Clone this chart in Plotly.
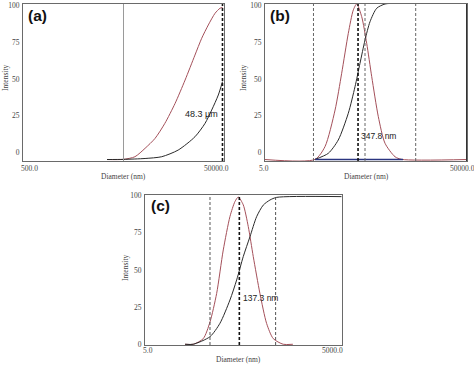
import math
import plotly.graph_objects as go

# ---------------- data ----------------
# panel (a): x in nm, y intensity
a_dist_x = [3430, 4980, 6500, 8200, 10300, 12900, 16300, 20500, 25700, 30000, 34900, 40700, 45600, 48300]
a_dist_y = [-4.6, -4.5, -2.7, 3.0, 9.7, 19.9, 33.4, 49.2, 66.1, 77.5, 86.5, 94.4, 97.8, 98.4]
a_cum_x = [3430, 4980, 8200, 12000, 17500, 25700, 32400, 37700, 43900, 48300]
a_cum_y = [-4.6, -4.5, -3.9, -2.7, 1.8, 10.8, 19.9, 28.9, 39.1, 48.1]
a_lines_thin = [5000]
a_line_main = 48300
a_label = "48.3 µm"

# panel (b)
b_dist_x = [5, 48.9, 77, 122, 165, 223, 280, 327, 411, 516, 649, 877, 1189, 1876, 2545, 50000]
b_dist_y = [-4.6, -4.5, 4.1, 28.9, 53.8, 80.8, 96.6, 100.7, 92.1, 74.1, 51.5, 24.4, 6.4, -2.7, -4.5, -4.6]
b_cum_x = [48.9, 89.6, 141, 223, 303, 380, 478, 600, 814, 1189, 1876, 4820]
b_cum_y = [-4.5, -0.4, 8.6, 26.7, 44.7, 60.5, 76.3, 88.7, 97.8, 100.7, 101.2, 101.2]
b_base_x = [48.9, 2700]
b_base_y = [-4.6, -4.6]
b_lines_thin = [45.6, 478, 4820]
b_line_main = 347.8
b_line_edge = 50000
b_label = "347.8 nm"

# panel (c)
c_dist_x = [20.4, 27.2, 38.7, 49, 61.9, 78.1, 98.8, 117.8, 132.2, 157.5, 187.8, 224, 283, 358, 452, 641, 900]
c_dist_y = [0, 0, 3.8, 15, 34.2, 63.5, 86, 96.1, 99.1, 93.9, 79.3, 59, 34.2, 14, 3.8, 0, 0]
c_cum_x = [20.4, 27.2, 49, 69.5, 98.8, 125, 157.5, 199.4, 252, 318, 402, 509, 5000]
c_cum_y = [0, 0, 5.1, 14.1, 29.8, 43.3, 59, 72.4, 85.9, 93.7, 97.1, 98.9, 99.4]
c_lines_thin = [49, 491]
c_line_main = 137.3
c_label = "137.3 nm"

y_ticks = [0, 25, 50, 75, 100]
panel_names = ["(a)", "(b)", "(c)"]
x_end_labels = [("500.0", "50000.0"), ("5.0", "50000.0"), ("5.0", "5000.0")]
x_title = "Diameter (nm)"
y_title = "Intensity"

# ---------------- figure ----------------
W, H = 474, 366
RED = "#a4505a"
BLK = "#2a2a2a"
SERIF = "Liberation Serif"
SANS = "Liberation Sans"


def px(x):
    return x / W


def py(y):
    return 1 - y / H


fig = go.Figure()
panels = [
    ("x", "y", a_dist_x, a_dist_y, a_cum_x, a_cum_y),
    ("x2", "y2", b_dist_x, b_dist_y, b_cum_x, b_cum_y),
    ("x3", "y3", c_dist_x, c_dist_y, c_cum_x, c_cum_y),
]
for xa, ya, dx, dy, cx, cy in panels:
    fig.add_trace(go.Scatter(x=dx, y=dy, mode="lines", line=dict(color=RED, width=1, shape="spline", smoothing=0.7),
                             xaxis=xa, yaxis=ya, showlegend=False, cliponaxis=False))
    fig.add_trace(go.Scatter(x=cx, y=cy, mode="lines", line=dict(color=BLK, width=1, shape="spline", smoothing=0.7),
                             xaxis=xa, yaxis=ya, showlegend=False, cliponaxis=False))
fig.add_trace(go.Scatter(x=b_base_x, y=b_base_y, mode="lines", line=dict(color="#2b3580", width=1.5),
                         xaxis="x2", yaxis="y2", showlegend=False))

shapes = []


def vline(xref, yref, x, color, width, dash):
    shapes.append(dict(type="line", xref=xref, yref=yref + " domain", x0=x, x1=x, y0=0, y1=1,
                       line=dict(color=color, width=width, dash=dash), layer="above"))


for v in a_lines_thin:
    vline("x", "y", v, "#9a9a9a", 1, "solid")
vline("x", "y", a_line_main, "#111111", 1.6, "3px,2px")
for v in b_lines_thin:
    vline("x2", "y2", v, "#666666", 1, "3px,2px")
vline("x2", "y2", b_line_main, "#111111", 1.6, "3px,2px")
vline("x2", "y2", b_line_edge, "#333333", 2, "solid")
for v in c_lines_thin:
    vline("x3", "y3", v, "#555555", 1, "3px,2px")
vline("x3", "y3", c_line_main, "#111111", 1.6, "3px,2px")

axis_common = dict(showgrid=False, zeroline=False, showline=True, mirror=True, linecolor="#6a6a6a",
                   linewidth=1, ticks="", automargin=False)
xdomains = [(px(23), px(224)), (px(265), px(467)), (px(145), px(341.7))]
ydomains = [(py(161), py(4)), (py(161), py(4)), (py(345), py(195))]
xranges = [(500, 50000), (5, 50000), (5, 5000)]
yranges = [(-5.6, 100.7), (-5.6, 100.7), (-0.5, 100.5)]

layout_axes = {}
for i in range(3):
    sx = "" if i == 0 else str(i + 1)
    layout_axes["xaxis" + sx] = dict(axis_common, domain=list(xdomains[i]), type="log",
                                     range=[math.log10(xranges[i][0]), math.log10(xranges[i][1])],
                                     showticklabels=False, anchor="y" + sx)
    layout_axes["yaxis" + sx] = dict(axis_common, domain=list(ydomains[i]), range=list(yranges[i]),
                                     tickvals=y_ticks, ticktext=[str(t) for t in y_ticks],
                                     tickfont=dict(family=SERIF, size=7.5, color="#444"),
                                     anchor="x" + sx, ticklabelstandoff=1)

ann = []
# panel letters
for name, (x, y) in zip(panel_names, [(26, 15.7), (267.5, 15.7), (149, 205.7)]):
    ann.append(dict(text="<b>%s</b>" % name, x=px(x), y=py(y), xref="paper", yref="paper",
                    xanchor="left", yanchor="middle", showarrow=False,
                    font=dict(family=SANS, size=15.5, color="#111")))
# x end labels
end_pos = [((29, 168.3), (216, 168.3)), ((264, 168.3), (462, 168.3)), ((148, 350.5), (332.5, 350.5))]
for (l, r), ((lx, ly), (rx, ry)) in zip(x_end_labels, end_pos):
    for t, x, y in ((l, lx, ly), (r, rx, ry)):
        ann.append(dict(text=t, x=px(x), y=py(y), xref="paper", yref="paper", xanchor="center",
                        yanchor="middle", showarrow=False, font=dict(family=SERIF, size=7.5, color="#444")))
# axis titles
for x, y in [(123.5, 176.7), (366, 176.7), (239, 359.5)]:
    ann.append(dict(text=x_title, x=px(x), y=py(y), xref="paper", yref="paper", xanchor="center",
                    yanchor="middle", showarrow=False, font=dict(family=SERIF, size=7.5, color="#444")))
for x, y in [(5, 78), (243, 78), (125, 268)]:
    ann.append(dict(text=y_title, x=px(x), y=py(y), xref="paper", yref="paper", xanchor="center",
                    yanchor="middle", showarrow=False, textangle=-90,
                    font=dict(family=SERIF, size=7.5, color="#444")))
# value labels
ann.append(dict(text=a_label, x=math.log10(a_line_main), y=26.2, xref="x", yref="y", xanchor="right",
                yanchor="middle", xshift=-2, showarrow=False, font=dict(family=SANS, size=9, color="#222")))
ann.append(dict(text=b_label, x=math.log10(b_line_main), y=11.3, xref="x2", yref="y2", xanchor="left",
                yanchor="middle", xshift=1, showarrow=False, font=dict(family=SANS, size=8.5, color="#222")))
ann.append(dict(text=c_label, x=math.log10(c_line_main), y=31.4, xref="x3", yref="y3", xanchor="left",
                yanchor="middle", xshift=2, showarrow=False, font=dict(family=SANS, size=8.5, color="#222")))

fig.update_layout(width=W, height=H, margin=dict(l=0, r=0, t=0, b=0, autoexpand=False), paper_bgcolor="white",
                  plot_bgcolor="white", shapes=shapes, annotations=ann, showlegend=False, **layout_axes)
fig.write_html("out.html", config={"displayModeBar": False},
               post_script="document.body.style.margin='0';document.body.style.overflow='hidden';")
